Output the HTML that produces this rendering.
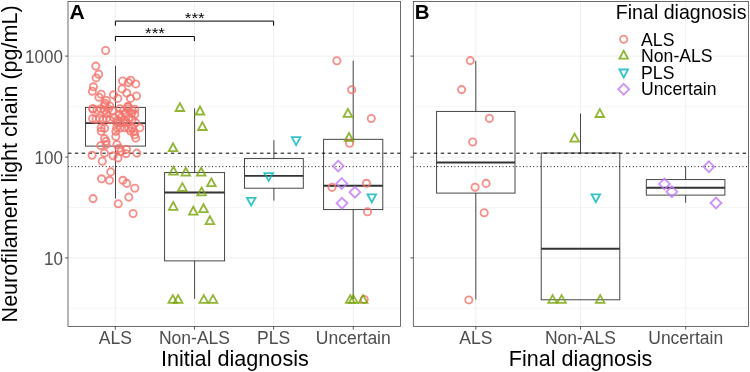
<!DOCTYPE html>
<html><head><meta charset="utf-8"><title>Neurofilament light chain</title><style>html,body{margin:0;padding:0;background:#fff}body{width:750px;height:372px;overflow:hidden}</style></head><body>
<svg width="750" height="372" viewBox="0 0 750 372" style="display:block" font-family="'Liberation Sans', Arial, sans-serif">
<rect x="0" y="0" width="750" height="372" fill="#fff"/>
<rect x="68.0" y="1.45" width="332.55" height="324.90000000000003" fill="#fff"/>
<line x1="68.0" x2="400.55" y1="308.3" y2="308.3" stroke="#EBEBEB" stroke-width="0.45"/>
<line x1="68.0" x2="400.55" y1="207.5" y2="207.5" stroke="#EBEBEB" stroke-width="0.45"/>
<line x1="68.0" x2="400.55" y1="106.7" y2="106.7" stroke="#EBEBEB" stroke-width="0.45"/>
<line x1="68.0" x2="400.55" y1="5.9" y2="5.9" stroke="#EBEBEB" stroke-width="0.45"/>
<line x1="68.0" x2="400.55" y1="56.1" y2="56.1" stroke="#EBEBEB" stroke-width="0.8"/>
<line x1="68.0" x2="400.55" y1="157.1" y2="157.1" stroke="#EBEBEB" stroke-width="0.8"/>
<line x1="68.0" x2="400.55" y1="257.9" y2="257.9" stroke="#EBEBEB" stroke-width="0.8"/>
<line x1="115.3" x2="115.3" y1="1.45" y2="326.35" stroke="#EBEBEB" stroke-width="0.8"/>
<line x1="194.5" x2="194.5" y1="1.45" y2="326.35" stroke="#EBEBEB" stroke-width="0.8"/>
<line x1="273.6" x2="273.6" y1="1.45" y2="326.35" stroke="#EBEBEB" stroke-width="0.8"/>
<line x1="353.3" x2="353.3" y1="1.45" y2="326.35" stroke="#EBEBEB" stroke-width="0.8"/>
<rect x="413.3" y="1.45" width="335.2" height="324.90000000000003" fill="#fff"/>
<line x1="413.3" x2="748.5" y1="308.3" y2="308.3" stroke="#EBEBEB" stroke-width="0.45"/>
<line x1="413.3" x2="748.5" y1="207.5" y2="207.5" stroke="#EBEBEB" stroke-width="0.45"/>
<line x1="413.3" x2="748.5" y1="106.7" y2="106.7" stroke="#EBEBEB" stroke-width="0.45"/>
<line x1="413.3" x2="748.5" y1="5.9" y2="5.9" stroke="#EBEBEB" stroke-width="0.45"/>
<line x1="413.3" x2="748.5" y1="56.1" y2="56.1" stroke="#EBEBEB" stroke-width="0.8"/>
<line x1="413.3" x2="748.5" y1="157.1" y2="157.1" stroke="#EBEBEB" stroke-width="0.8"/>
<line x1="413.3" x2="748.5" y1="257.9" y2="257.9" stroke="#EBEBEB" stroke-width="0.8"/>
<line x1="475.8" x2="475.8" y1="1.45" y2="326.35" stroke="#EBEBEB" stroke-width="0.8"/>
<line x1="580.5" x2="580.5" y1="1.45" y2="326.35" stroke="#EBEBEB" stroke-width="0.8"/>
<line x1="685.7" x2="685.7" y1="1.45" y2="326.35" stroke="#EBEBEB" stroke-width="0.8"/>
<line x1="115.5" x2="115.5" y1="65.8" y2="107.4" stroke="#333" stroke-width="0.9"/>
<line x1="115.5" x2="115.5" y1="146.1" y2="198.6" stroke="#333" stroke-width="0.9"/>
<rect x="85.5" y="107.4" width="60.0" height="38.69999999999999" fill="#fff" fill-opacity="0" stroke="#333" stroke-width="0.9"/>
<line x1="85.5" x2="145.5" y1="123.1" y2="123.1" stroke="#333" stroke-width="1.9"/>
<line x1="194.6" x2="194.6" y1="108.3" y2="172.6" stroke="#333" stroke-width="0.9"/>
<line x1="194.6" x2="194.6" y1="260.9" y2="298.8" stroke="#333" stroke-width="0.9"/>
<rect x="164.6" y="172.6" width="60.0" height="88.29999999999998" fill="#fff" fill-opacity="0" stroke="#333" stroke-width="0.9"/>
<line x1="164.6" x2="224.6" y1="192.5" y2="192.5" stroke="#333" stroke-width="1.9"/>
<line x1="273.9" x2="273.9" y1="140.2" y2="158.6" stroke="#333" stroke-width="0.9"/>
<line x1="273.9" x2="273.9" y1="188.2" y2="200.6" stroke="#333" stroke-width="0.9"/>
<rect x="244.49999999999997" y="158.6" width="58.8" height="29.599999999999994" fill="#fff" fill-opacity="0" stroke="#333" stroke-width="0.9"/>
<line x1="244.49999999999997" x2="303.29999999999995" y1="175.9" y2="175.9" stroke="#333" stroke-width="1.9"/>
<line x1="353.2" x2="353.2" y1="60.7" y2="139.3" stroke="#333" stroke-width="0.9"/>
<line x1="353.2" x2="353.2" y1="209.6" y2="299.0" stroke="#333" stroke-width="0.9"/>
<rect x="323.59999999999997" y="139.3" width="59.2" height="70.29999999999998" fill="#fff" fill-opacity="0" stroke="#333" stroke-width="0.9"/>
<line x1="323.59999999999997" x2="382.8" y1="185.8" y2="185.8" stroke="#333" stroke-width="1.9"/>
<line x1="475.8" x2="475.8" y1="61.0" y2="111.4" stroke="#333" stroke-width="0.9"/>
<line x1="475.8" x2="475.8" y1="193.1" y2="299.6" stroke="#333" stroke-width="0.9"/>
<rect x="436.6" y="111.4" width="78.4" height="81.69999999999999" fill="#fff" fill-opacity="0" stroke="#333" stroke-width="0.9"/>
<line x1="436.6" x2="515.0" y1="162.5" y2="162.5" stroke="#333" stroke-width="1.9"/>
<line x1="580.5" x2="580.5" y1="113.6" y2="153.0" stroke="#333" stroke-width="0.9"/>
<line x1="580.5" x2="580.5" y1="299.8" y2="299.8" stroke="#333" stroke-width="0.9"/>
<rect x="541.2" y="153.0" width="78.6" height="146.8" fill="#fff" fill-opacity="0" stroke="#333" stroke-width="0.9"/>
<line x1="541.2" x2="619.8" y1="248.8" y2="248.8" stroke="#333" stroke-width="1.9"/>
<line x1="685.6" x2="685.6" y1="166.2" y2="179.6" stroke="#333" stroke-width="0.9"/>
<line x1="685.6" x2="685.6" y1="195.1" y2="202.8" stroke="#333" stroke-width="0.9"/>
<rect x="646.3000000000001" y="179.6" width="78.6" height="15.5" fill="#fff" fill-opacity="0" stroke="#333" stroke-width="0.9"/>
<line x1="646.3000000000001" x2="724.9" y1="187.7" y2="187.7" stroke="#333" stroke-width="1.9"/>
<line x1="68.0" x2="400.55" y1="153.2" y2="153.2" stroke="#000" stroke-width="1" stroke-dasharray="3.43 3.43"/>
<line x1="68.0" x2="400.55" y1="166.6" y2="166.6" stroke="#000" stroke-width="1" stroke-dasharray="0.9 2.53"/>
<line x1="413.3" x2="748.5" y1="153.2" y2="153.2" stroke="#000" stroke-width="1" stroke-dasharray="3.43 3.43"/>
<line x1="413.3" x2="748.5" y1="166.6" y2="166.6" stroke="#000" stroke-width="1" stroke-dasharray="0.9 2.53"/>
<circle cx="105.6" cy="50.5" r="3.6" fill="none" stroke="#F4736B" stroke-width="1.85" stroke-opacity="0.8"/>
<circle cx="95.8" cy="66.1" r="3.6" fill="none" stroke="#F4736B" stroke-width="1.85" stroke-opacity="0.8"/>
<circle cx="98.7" cy="74.2" r="3.6" fill="none" stroke="#F4736B" stroke-width="1.85" stroke-opacity="0.8"/>
<circle cx="96.1" cy="77.9" r="3.6" fill="none" stroke="#F4736B" stroke-width="1.85" stroke-opacity="0.8"/>
<circle cx="93.4" cy="86.8" r="3.6" fill="none" stroke="#F4736B" stroke-width="1.85" stroke-opacity="0.8"/>
<circle cx="122.6" cy="81.0" r="3.6" fill="none" stroke="#F4736B" stroke-width="1.85" stroke-opacity="0.8"/>
<circle cx="128.4" cy="82.6" r="3.6" fill="none" stroke="#F4736B" stroke-width="1.85" stroke-opacity="0.8"/>
<circle cx="130.6" cy="80.2" r="3.6" fill="none" stroke="#F4736B" stroke-width="1.85" stroke-opacity="0.8"/>
<circle cx="135.8" cy="83.9" r="3.6" fill="none" stroke="#F4736B" stroke-width="1.85" stroke-opacity="0.8"/>
<circle cx="122.0" cy="88.9" r="3.6" fill="none" stroke="#F4736B" stroke-width="1.85" stroke-opacity="0.8"/>
<circle cx="92.4" cy="91.2" r="3.6" fill="none" stroke="#F4736B" stroke-width="1.85" stroke-opacity="0.8"/>
<circle cx="101.2" cy="94.2" r="3.6" fill="none" stroke="#F4736B" stroke-width="1.85" stroke-opacity="0.8"/>
<circle cx="99.0" cy="97.2" r="3.6" fill="none" stroke="#F4736B" stroke-width="1.85" stroke-opacity="0.8"/>
<circle cx="106.3" cy="100.5" r="3.6" fill="none" stroke="#F4736B" stroke-width="1.85" stroke-opacity="0.8"/>
<circle cx="105.0" cy="103.3" r="3.6" fill="none" stroke="#F4736B" stroke-width="1.85" stroke-opacity="0.8"/>
<circle cx="113.5" cy="94.8" r="3.6" fill="none" stroke="#F4736B" stroke-width="1.85" stroke-opacity="0.8"/>
<circle cx="117.8" cy="98.4" r="3.6" fill="none" stroke="#F4736B" stroke-width="1.85" stroke-opacity="0.8"/>
<circle cx="126.8" cy="93.0" r="3.6" fill="none" stroke="#F4736B" stroke-width="1.85" stroke-opacity="0.8"/>
<circle cx="130.5" cy="98.4" r="3.6" fill="none" stroke="#F4736B" stroke-width="1.85" stroke-opacity="0.8"/>
<circle cx="136.5" cy="96.0" r="3.6" fill="none" stroke="#F4736B" stroke-width="1.85" stroke-opacity="0.8"/>
<circle cx="128.0" cy="106.9" r="3.6" fill="none" stroke="#F4736B" stroke-width="1.85" stroke-opacity="0.8"/>
<circle cx="93.0" cy="108.7" r="3.6" fill="none" stroke="#F4736B" stroke-width="1.85" stroke-opacity="0.8"/>
<circle cx="92.6" cy="109.0" r="3.6" fill="none" stroke="#F4736B" stroke-width="1.85" stroke-opacity="0.8"/>
<circle cx="96.9" cy="110.0" r="3.6" fill="none" stroke="#F4736B" stroke-width="1.85" stroke-opacity="0.8"/>
<circle cx="100.8" cy="108.8" r="3.6" fill="none" stroke="#F4736B" stroke-width="1.85" stroke-opacity="0.8"/>
<circle cx="104.6" cy="110.2" r="3.6" fill="none" stroke="#F4736B" stroke-width="1.85" stroke-opacity="0.8"/>
<circle cx="108.5" cy="109.0" r="3.6" fill="none" stroke="#F4736B" stroke-width="1.85" stroke-opacity="0.8"/>
<circle cx="112.4" cy="110.6" r="3.6" fill="none" stroke="#F4736B" stroke-width="1.85" stroke-opacity="0.8"/>
<circle cx="120.1" cy="108.7" r="3.6" fill="none" stroke="#F4736B" stroke-width="1.85" stroke-opacity="0.8"/>
<circle cx="123.6" cy="110.4" r="3.6" fill="none" stroke="#F4736B" stroke-width="1.85" stroke-opacity="0.8"/>
<circle cx="127.9" cy="109.0" r="3.6" fill="none" stroke="#F4736B" stroke-width="1.85" stroke-opacity="0.8"/>
<circle cx="132.2" cy="110.4" r="3.6" fill="none" stroke="#F4736B" stroke-width="1.85" stroke-opacity="0.8"/>
<circle cx="134.8" cy="109.2" r="3.6" fill="none" stroke="#F4736B" stroke-width="1.85" stroke-opacity="0.8"/>
<circle cx="104.6" cy="105.4" r="3.6" fill="none" stroke="#F4736B" stroke-width="1.85" stroke-opacity="0.8"/>
<circle cx="109.8" cy="105.9" r="3.6" fill="none" stroke="#F4736B" stroke-width="1.85" stroke-opacity="0.8"/>
<circle cx="127.9" cy="106.3" r="3.6" fill="none" stroke="#F4736B" stroke-width="1.85" stroke-opacity="0.8"/>
<circle cx="131.7" cy="113.2" r="3.6" fill="none" stroke="#F4736B" stroke-width="1.85" stroke-opacity="0.8"/>
<circle cx="134.8" cy="114.2" r="3.6" fill="none" stroke="#F4736B" stroke-width="1.85" stroke-opacity="0.8"/>
<circle cx="92.6" cy="118.6" r="3.6" fill="none" stroke="#F4736B" stroke-width="1.85" stroke-opacity="0.8"/>
<circle cx="96.0" cy="119.3" r="3.6" fill="none" stroke="#F4736B" stroke-width="1.85" stroke-opacity="0.8"/>
<circle cx="99.5" cy="118.2" r="3.6" fill="none" stroke="#F4736B" stroke-width="1.85" stroke-opacity="0.8"/>
<circle cx="102.9" cy="119.6" r="3.6" fill="none" stroke="#F4736B" stroke-width="1.85" stroke-opacity="0.8"/>
<circle cx="106.4" cy="118.4" r="3.6" fill="none" stroke="#F4736B" stroke-width="1.85" stroke-opacity="0.8"/>
<circle cx="109.8" cy="119.8" r="3.6" fill="none" stroke="#F4736B" stroke-width="1.85" stroke-opacity="0.8"/>
<circle cx="114.1" cy="118.0" r="3.6" fill="none" stroke="#F4736B" stroke-width="1.85" stroke-opacity="0.8"/>
<circle cx="117.5" cy="120.2" r="3.6" fill="none" stroke="#F4736B" stroke-width="1.85" stroke-opacity="0.8"/>
<circle cx="121.0" cy="117.6" r="3.6" fill="none" stroke="#F4736B" stroke-width="1.85" stroke-opacity="0.8"/>
<circle cx="124.4" cy="119.9" r="3.6" fill="none" stroke="#F4736B" stroke-width="1.85" stroke-opacity="0.8"/>
<circle cx="128.7" cy="117.9" r="3.6" fill="none" stroke="#F4736B" stroke-width="1.85" stroke-opacity="0.8"/>
<circle cx="132.2" cy="119.6" r="3.6" fill="none" stroke="#F4736B" stroke-width="1.85" stroke-opacity="0.8"/>
<circle cx="116.7" cy="122.6" r="3.6" fill="none" stroke="#F4736B" stroke-width="1.85" stroke-opacity="0.8"/>
<circle cx="120.1" cy="122.9" r="3.6" fill="none" stroke="#F4736B" stroke-width="1.85" stroke-opacity="0.8"/>
<circle cx="123.6" cy="122.4" r="3.6" fill="none" stroke="#F4736B" stroke-width="1.85" stroke-opacity="0.8"/>
<circle cx="127.0" cy="122.8" r="3.6" fill="none" stroke="#F4736B" stroke-width="1.85" stroke-opacity="0.8"/>
<circle cx="135.6" cy="122.6" r="3.6" fill="none" stroke="#F4736B" stroke-width="1.85" stroke-opacity="0.8"/>
<circle cx="101.2" cy="127.8" r="3.6" fill="none" stroke="#F4736B" stroke-width="1.85" stroke-opacity="0.8"/>
<circle cx="104.6" cy="128.2" r="3.6" fill="none" stroke="#F4736B" stroke-width="1.85" stroke-opacity="0.8"/>
<circle cx="116.7" cy="127.6" r="3.6" fill="none" stroke="#F4736B" stroke-width="1.85" stroke-opacity="0.8"/>
<circle cx="120.1" cy="128.0" r="3.6" fill="none" stroke="#F4736B" stroke-width="1.85" stroke-opacity="0.8"/>
<circle cx="124.4" cy="127.6" r="3.6" fill="none" stroke="#F4736B" stroke-width="1.85" stroke-opacity="0.8"/>
<circle cx="128.7" cy="128.1" r="3.6" fill="none" stroke="#F4736B" stroke-width="1.85" stroke-opacity="0.8"/>
<circle cx="132.2" cy="127.8" r="3.6" fill="none" stroke="#F4736B" stroke-width="1.85" stroke-opacity="0.8"/>
<circle cx="139.9" cy="127.8" r="3.6" fill="none" stroke="#F4736B" stroke-width="1.85" stroke-opacity="0.8"/>
<circle cx="101.2" cy="131.2" r="3.6" fill="none" stroke="#F4736B" stroke-width="1.85" stroke-opacity="0.8"/>
<circle cx="115.8" cy="131.4" r="3.6" fill="none" stroke="#F4736B" stroke-width="1.85" stroke-opacity="0.8"/>
<circle cx="130.5" cy="131.0" r="3.6" fill="none" stroke="#F4736B" stroke-width="1.85" stroke-opacity="0.8"/>
<circle cx="133.9" cy="131.6" r="3.6" fill="none" stroke="#F4736B" stroke-width="1.85" stroke-opacity="0.8"/>
<circle cx="119.5" cy="114.3" r="3.6" fill="none" stroke="#F4736B" stroke-width="1.85" stroke-opacity="0.8"/>
<circle cx="125.3" cy="113.8" r="3.6" fill="none" stroke="#F4736B" stroke-width="1.85" stroke-opacity="0.8"/>
<circle cx="106.6" cy="113.6" r="3.6" fill="none" stroke="#F4736B" stroke-width="1.85" stroke-opacity="0.8"/>
<circle cx="115.8" cy="136.5" r="3.6" fill="none" stroke="#F4736B" stroke-width="1.85" stroke-opacity="0.8"/>
<circle cx="104.5" cy="138.6" r="3.6" fill="none" stroke="#F4736B" stroke-width="1.85" stroke-opacity="0.8"/>
<circle cx="106.1" cy="141.3" r="3.6" fill="none" stroke="#F4736B" stroke-width="1.85" stroke-opacity="0.8"/>
<circle cx="135.7" cy="138.1" r="3.6" fill="none" stroke="#F4736B" stroke-width="1.85" stroke-opacity="0.8"/>
<circle cx="134.6" cy="134.8" r="3.6" fill="none" stroke="#F4736B" stroke-width="1.85" stroke-opacity="0.8"/>
<circle cx="100.7" cy="145.6" r="3.6" fill="none" stroke="#F4736B" stroke-width="1.85" stroke-opacity="0.8"/>
<circle cx="106.1" cy="144.5" r="3.6" fill="none" stroke="#F4736B" stroke-width="1.85" stroke-opacity="0.8"/>
<circle cx="116.9" cy="144.5" r="3.6" fill="none" stroke="#F4736B" stroke-width="1.85" stroke-opacity="0.8"/>
<circle cx="119.0" cy="148.3" r="3.6" fill="none" stroke="#F4736B" stroke-width="1.85" stroke-opacity="0.8"/>
<circle cx="126.5" cy="149.4" r="3.6" fill="none" stroke="#F4736B" stroke-width="1.85" stroke-opacity="0.8"/>
<circle cx="121.2" cy="151.5" r="3.6" fill="none" stroke="#F4736B" stroke-width="1.85" stroke-opacity="0.8"/>
<circle cx="126.0" cy="153.7" r="3.6" fill="none" stroke="#F4736B" stroke-width="1.85" stroke-opacity="0.8"/>
<circle cx="136.8" cy="153.1" r="3.6" fill="none" stroke="#F4736B" stroke-width="1.85" stroke-opacity="0.8"/>
<circle cx="104.5" cy="153.1" r="3.6" fill="none" stroke="#F4736B" stroke-width="1.85" stroke-opacity="0.8"/>
<circle cx="92.1" cy="155.3" r="3.6" fill="none" stroke="#F4736B" stroke-width="1.85" stroke-opacity="0.8"/>
<circle cx="113.1" cy="155.8" r="3.6" fill="none" stroke="#F4736B" stroke-width="1.85" stroke-opacity="0.8"/>
<circle cx="117.9" cy="158.0" r="3.6" fill="none" stroke="#F4736B" stroke-width="1.85" stroke-opacity="0.8"/>
<circle cx="102.3" cy="161.2" r="3.6" fill="none" stroke="#F4736B" stroke-width="1.85" stroke-opacity="0.8"/>
<circle cx="110.7" cy="171.9" r="3.6" fill="none" stroke="#F4736B" stroke-width="1.85" stroke-opacity="0.8"/>
<circle cx="101.6" cy="178.8" r="3.6" fill="none" stroke="#F4736B" stroke-width="1.85" stroke-opacity="0.8"/>
<circle cx="109.5" cy="180.3" r="3.6" fill="none" stroke="#F4736B" stroke-width="1.85" stroke-opacity="0.8"/>
<circle cx="122.9" cy="180.3" r="3.6" fill="none" stroke="#F4736B" stroke-width="1.85" stroke-opacity="0.8"/>
<circle cx="126.7" cy="183.4" r="3.6" fill="none" stroke="#F4736B" stroke-width="1.85" stroke-opacity="0.8"/>
<circle cx="134.8" cy="188.2" r="3.6" fill="none" stroke="#F4736B" stroke-width="1.85" stroke-opacity="0.8"/>
<circle cx="128.8" cy="197.1" r="3.6" fill="none" stroke="#F4736B" stroke-width="1.85" stroke-opacity="0.8"/>
<circle cx="93.0" cy="198.6" r="3.6" fill="none" stroke="#F4736B" stroke-width="1.85" stroke-opacity="0.8"/>
<circle cx="118.2" cy="203.7" r="3.6" fill="none" stroke="#F4736B" stroke-width="1.85" stroke-opacity="0.8"/>
<circle cx="133.1" cy="213.5" r="3.6" fill="none" stroke="#F4736B" stroke-width="1.85" stroke-opacity="0.8"/>
<path d="M179.9 103.1L184.2 111.0L175.6 111.0Z" fill="none" stroke="#74A400" stroke-width="1.8" stroke-opacity="0.8" stroke-linejoin="miter"/>
<path d="M200.0 106.5L204.3 114.5L195.7 114.5Z" fill="none" stroke="#74A400" stroke-width="1.8" stroke-opacity="0.8" stroke-linejoin="miter"/>
<path d="M202.4 122.1L206.7 130.0L198.1 130.0Z" fill="none" stroke="#74A400" stroke-width="1.8" stroke-opacity="0.8" stroke-linejoin="miter"/>
<path d="M173.0 143.3L177.3 151.2L168.7 151.2Z" fill="none" stroke="#74A400" stroke-width="1.8" stroke-opacity="0.8" stroke-linejoin="miter"/>
<path d="M173.5 166.7L177.8 174.6L169.2 174.6Z" fill="none" stroke="#74A400" stroke-width="1.8" stroke-opacity="0.8" stroke-linejoin="miter"/>
<path d="M185.8 167.7L190.1 175.6L181.5 175.6Z" fill="none" stroke="#74A400" stroke-width="1.8" stroke-opacity="0.8" stroke-linejoin="miter"/>
<path d="M201.2 167.7L205.5 175.6L196.9 175.6Z" fill="none" stroke="#74A400" stroke-width="1.8" stroke-opacity="0.8" stroke-linejoin="miter"/>
<path d="M211.4 178.4L215.7 186.2L207.1 186.2Z" fill="none" stroke="#74A400" stroke-width="1.8" stroke-opacity="0.8" stroke-linejoin="miter"/>
<path d="M182.4 183.1L186.7 190.9L178.1 190.9Z" fill="none" stroke="#74A400" stroke-width="1.8" stroke-opacity="0.8" stroke-linejoin="miter"/>
<path d="M201.6 187.5L205.9 195.3L197.3 195.3Z" fill="none" stroke="#74A400" stroke-width="1.8" stroke-opacity="0.8" stroke-linejoin="miter"/>
<path d="M173.2 202.0L177.5 209.8L168.9 209.8Z" fill="none" stroke="#74A400" stroke-width="1.8" stroke-opacity="0.8" stroke-linejoin="miter"/>
<path d="M193.3 206.7L197.6 214.6L189.0 214.6Z" fill="none" stroke="#74A400" stroke-width="1.8" stroke-opacity="0.8" stroke-linejoin="miter"/>
<path d="M203.5 204.2L207.8 212.1L199.2 212.1Z" fill="none" stroke="#74A400" stroke-width="1.8" stroke-opacity="0.8" stroke-linejoin="miter"/>
<path d="M209.9 216.2L214.2 224.1L205.6 224.1Z" fill="none" stroke="#74A400" stroke-width="1.8" stroke-opacity="0.8" stroke-linejoin="miter"/>
<path d="M172.8 295.1L177.1 302.9L168.5 302.9Z" fill="none" stroke="#74A400" stroke-width="1.8" stroke-opacity="0.8" stroke-linejoin="miter"/>
<path d="M178.1 295.1L182.4 302.9L173.8 302.9Z" fill="none" stroke="#74A400" stroke-width="1.8" stroke-opacity="0.8" stroke-linejoin="miter"/>
<path d="M203.8 295.1L208.1 302.9L199.5 302.9Z" fill="none" stroke="#74A400" stroke-width="1.8" stroke-opacity="0.8" stroke-linejoin="miter"/>
<path d="M213.0 295.1L217.3 302.9L208.7 302.9Z" fill="none" stroke="#74A400" stroke-width="1.8" stroke-opacity="0.8" stroke-linejoin="miter"/>
<path d="M296.1 145.1L300.4 137.2L291.8 137.2Z" fill="none" stroke="#00B4BA" stroke-width="1.8" stroke-opacity="0.8" stroke-linejoin="miter"/>
<path d="M268.7 180.9L273.0 173.1L264.4 173.1Z" fill="none" stroke="#00B4BA" stroke-width="1.8" stroke-opacity="0.8" stroke-linejoin="miter"/>
<path d="M251.2 205.6L255.5 197.8L246.9 197.8Z" fill="none" stroke="#00B4BA" stroke-width="1.8" stroke-opacity="0.8" stroke-linejoin="miter"/>
<circle cx="336.9" cy="60.7" r="3.6" fill="none" stroke="#F4736B" stroke-width="1.85" stroke-opacity="0.8"/>
<circle cx="351.7" cy="89.7" r="3.6" fill="none" stroke="#F4736B" stroke-width="1.85" stroke-opacity="0.8"/>
<circle cx="371.3" cy="118.5" r="3.6" fill="none" stroke="#F4736B" stroke-width="1.85" stroke-opacity="0.8"/>
<circle cx="349.5" cy="143.3" r="3.6" fill="none" stroke="#F4736B" stroke-width="1.85" stroke-opacity="0.8"/>
<circle cx="332.0" cy="187.4" r="3.6" fill="none" stroke="#F4736B" stroke-width="1.85" stroke-opacity="0.8"/>
<circle cx="366.5" cy="183.3" r="3.6" fill="none" stroke="#F4736B" stroke-width="1.85" stroke-opacity="0.8"/>
<circle cx="367.5" cy="211.8" r="3.6" fill="none" stroke="#F4736B" stroke-width="1.85" stroke-opacity="0.8"/>
<circle cx="364.2" cy="299.4" r="3.6" fill="none" stroke="#F4736B" stroke-width="1.85" stroke-opacity="0.8"/>
<path d="M347.9 108.9L352.2 116.8L343.6 116.8Z" fill="none" stroke="#74A400" stroke-width="1.8" stroke-opacity="0.8" stroke-linejoin="miter"/>
<path d="M349.0 133.0L353.3 140.8L344.7 140.8Z" fill="none" stroke="#74A400" stroke-width="1.8" stroke-opacity="0.8" stroke-linejoin="miter"/>
<path d="M350.3 295.1L354.6 302.9L346.0 302.9Z" fill="none" stroke="#74A400" stroke-width="1.8" stroke-opacity="0.8" stroke-linejoin="miter"/>
<path d="M353.3 295.1L357.6 302.9L349.0 302.9Z" fill="none" stroke="#74A400" stroke-width="1.8" stroke-opacity="0.8" stroke-linejoin="miter"/>
<path d="M363.1 295.1L367.4 302.9L358.8 302.9Z" fill="none" stroke="#74A400" stroke-width="1.8" stroke-opacity="0.8" stroke-linejoin="miter"/>
<path d="M338.2 160.7L343.6 166.1L338.2 171.5L332.8 166.1Z" fill="none" stroke="#C078F8" stroke-width="1.85" stroke-opacity="0.8" stroke-linejoin="miter"/>
<path d="M341.7 178.2L347.1 183.6L341.7 189.0L336.3 183.6Z" fill="none" stroke="#C078F8" stroke-width="1.85" stroke-opacity="0.8" stroke-linejoin="miter"/>
<path d="M354.9 186.8L360.3 192.2L354.9 197.6L349.5 192.2Z" fill="none" stroke="#C078F8" stroke-width="1.85" stroke-opacity="0.8" stroke-linejoin="miter"/>
<path d="M342.0 197.8L347.4 203.2L342.0 208.6L336.6 203.2Z" fill="none" stroke="#C078F8" stroke-width="1.85" stroke-opacity="0.8" stroke-linejoin="miter"/>
<path d="M371.8 202.3L376.1 194.4L367.5 194.4Z" fill="none" stroke="#00B4BA" stroke-width="1.8" stroke-opacity="0.8" stroke-linejoin="miter"/>
<circle cx="470.3" cy="60.6" r="3.6" fill="none" stroke="#F4736B" stroke-width="1.85" stroke-opacity="0.8"/>
<circle cx="461.6" cy="89.6" r="3.6" fill="none" stroke="#F4736B" stroke-width="1.85" stroke-opacity="0.8"/>
<circle cx="489.4" cy="118.4" r="3.6" fill="none" stroke="#F4736B" stroke-width="1.85" stroke-opacity="0.8"/>
<circle cx="472.7" cy="142.0" r="3.6" fill="none" stroke="#F4736B" stroke-width="1.85" stroke-opacity="0.8"/>
<circle cx="486.1" cy="183.4" r="3.6" fill="none" stroke="#F4736B" stroke-width="1.85" stroke-opacity="0.8"/>
<circle cx="475.1" cy="187.2" r="3.6" fill="none" stroke="#F4736B" stroke-width="1.85" stroke-opacity="0.8"/>
<circle cx="484.2" cy="212.7" r="3.6" fill="none" stroke="#F4736B" stroke-width="1.85" stroke-opacity="0.8"/>
<circle cx="468.8" cy="299.9" r="3.6" fill="none" stroke="#F4736B" stroke-width="1.85" stroke-opacity="0.8"/>
<path d="M599.8 109.1L604.1 117.0L595.5 117.0Z" fill="none" stroke="#74A400" stroke-width="1.8" stroke-opacity="0.8" stroke-linejoin="miter"/>
<path d="M574.6 133.7L578.9 141.6L570.3 141.6Z" fill="none" stroke="#74A400" stroke-width="1.8" stroke-opacity="0.8" stroke-linejoin="miter"/>
<path d="M552.6 295.1L556.9 302.9L548.3 302.9Z" fill="none" stroke="#74A400" stroke-width="1.8" stroke-opacity="0.8" stroke-linejoin="miter"/>
<path d="M561.6 295.1L565.9 302.9L557.3 302.9Z" fill="none" stroke="#74A400" stroke-width="1.8" stroke-opacity="0.8" stroke-linejoin="miter"/>
<path d="M600.2 295.1L604.5 302.9L595.9 302.9Z" fill="none" stroke="#74A400" stroke-width="1.8" stroke-opacity="0.8" stroke-linejoin="miter"/>
<path d="M595.8 202.2L600.1 194.3L591.5 194.3Z" fill="none" stroke="#00B4BA" stroke-width="1.8" stroke-opacity="0.8" stroke-linejoin="miter"/>
<path d="M708.9 161.3L714.3 166.7L708.9 172.1L703.5 166.7Z" fill="none" stroke="#C078F8" stroke-width="1.85" stroke-opacity="0.8" stroke-linejoin="miter"/>
<path d="M664.4 178.5L669.8 183.9L664.4 189.3L659.0 183.9Z" fill="none" stroke="#C078F8" stroke-width="1.85" stroke-opacity="0.8" stroke-linejoin="miter"/>
<path d="M671.9 186.4L677.3 191.8L671.9 197.2L666.5 191.8Z" fill="none" stroke="#C078F8" stroke-width="1.85" stroke-opacity="0.8" stroke-linejoin="miter"/>
<path d="M716.0 197.6L721.4 203.0L716.0 208.4L710.6 203.0Z" fill="none" stroke="#C078F8" stroke-width="1.85" stroke-opacity="0.8" stroke-linejoin="miter"/>
<rect x="68.0" y="1.45" width="332.55" height="324.90000000000003" fill="none" stroke="#333" stroke-width="0.72"/>
<line x1="115.3" x2="115.3" y1="326.35" y2="329.65000000000003" stroke="#333" stroke-width="0.8"/>
<line x1="194.5" x2="194.5" y1="326.35" y2="329.65000000000003" stroke="#333" stroke-width="0.8"/>
<line x1="273.6" x2="273.6" y1="326.35" y2="329.65000000000003" stroke="#333" stroke-width="0.8"/>
<line x1="353.3" x2="353.3" y1="326.35" y2="329.65000000000003" stroke="#333" stroke-width="0.8"/>
<line x1="65.1" x2="68.0" y1="56.1" y2="56.1" stroke="#333" stroke-width="0.8"/>
<line x1="65.1" x2="68.0" y1="157.1" y2="157.1" stroke="#333" stroke-width="0.8"/>
<line x1="65.1" x2="68.0" y1="257.9" y2="257.9" stroke="#333" stroke-width="0.8"/>
<rect x="413.3" y="1.45" width="335.2" height="324.90000000000003" fill="none" stroke="#333" stroke-width="0.72"/>
<line x1="475.8" x2="475.8" y1="326.35" y2="329.65000000000003" stroke="#333" stroke-width="0.8"/>
<line x1="580.5" x2="580.5" y1="326.35" y2="329.65000000000003" stroke="#333" stroke-width="0.8"/>
<line x1="685.7" x2="685.7" y1="326.35" y2="329.65000000000003" stroke="#333" stroke-width="0.8"/>
<line x1="410.40000000000003" x2="413.3" y1="56.1" y2="56.1" stroke="#333" stroke-width="0.8"/>
<line x1="410.40000000000003" x2="413.3" y1="157.1" y2="157.1" stroke="#333" stroke-width="0.8"/>
<line x1="410.40000000000003" x2="413.3" y1="257.9" y2="257.9" stroke="#333" stroke-width="0.8"/>
<path d="M115.4 25.7V21.1H273.6V25.7" fill="none" stroke="#000" stroke-width="1.0"/>
<path d="M115.4 41.1V36.5H194.4V41.1" fill="none" stroke="#000" stroke-width="1.0"/>
<text x="194.7" y="22.5" font-size="14.3" text-anchor="middle" textLength="19.85" lengthAdjust="spacingAndGlyphs" fill="#000">***</text>
<text x="155.0" y="37.6" font-size="14.3" text-anchor="middle" textLength="19.85" lengthAdjust="spacingAndGlyphs" fill="#000">***</text>
<text x="69.5" y="19.3" font-size="20.4" font-weight="bold" textLength="15.26" lengthAdjust="spacingAndGlyphs" fill="#000">A</text>
<text x="414.7" y="19.3" font-size="20.0" font-weight="bold" textLength="14.80" lengthAdjust="spacingAndGlyphs" fill="#000">B</text>
<text x="62.9" y="62.7" font-size="18.5" text-anchor="end" textLength="37.78" lengthAdjust="spacingAndGlyphs" fill="#4D4D4D">1000</text>
<text x="62.9" y="163.7" font-size="18.5" text-anchor="end" textLength="28.34" lengthAdjust="spacingAndGlyphs" fill="#4D4D4D">100</text>
<text x="62.9" y="264.5" font-size="18.5" text-anchor="end" textLength="18.89" lengthAdjust="spacingAndGlyphs" fill="#4D4D4D">10</text>
<text x="115.3" y="343.5" font-size="17.5" text-anchor="middle" textLength="33.08" lengthAdjust="spacingAndGlyphs" fill="#4D4D4D">ALS</text>
<text x="194.5" y="343.5" font-size="17.5" text-anchor="middle" textLength="71.01" lengthAdjust="spacingAndGlyphs" fill="#4D4D4D">Non-ALS</text>
<text x="273.6" y="343.5" font-size="17.5" text-anchor="middle" textLength="33.08" lengthAdjust="spacingAndGlyphs" fill="#4D4D4D">PLS</text>
<text x="353.3" y="343.5" font-size="17.5" text-anchor="middle" textLength="74.90" lengthAdjust="spacingAndGlyphs" fill="#4D4D4D">Uncertain</text>
<text x="475.8" y="343.5" font-size="17.5" text-anchor="middle" textLength="33.08" lengthAdjust="spacingAndGlyphs" fill="#4D4D4D">ALS</text>
<text x="580.5" y="343.5" font-size="17.5" text-anchor="middle" textLength="71.01" lengthAdjust="spacingAndGlyphs" fill="#4D4D4D">Non-ALS</text>
<text x="685.7" y="343.5" font-size="17.5" text-anchor="middle" textLength="74.90" lengthAdjust="spacingAndGlyphs" fill="#4D4D4D">Uncertain</text>
<text x="234.9" y="365.7" font-size="21.5" text-anchor="middle" textLength="147.89" lengthAdjust="spacingAndGlyphs" fill="#000">Initial diagnosis</text>
<text x="580.6" y="365.7" font-size="21.5" text-anchor="middle" textLength="143.56" lengthAdjust="spacingAndGlyphs" fill="#000">Final diagnosis</text>
<text transform="translate(16.8,163.9) rotate(-90)" font-size="21.5" text-anchor="middle" textLength="317.0" lengthAdjust="spacingAndGlyphs" fill="#000">Neurofilament light chain (pg/mL)</text>
<text x="615.8" y="19.2" font-size="19.8" textLength="130.63" lengthAdjust="spacingAndGlyphs" fill="#000">Final diagnosis</text>
<text x="641.1" y="45.5" font-size="17.8" textLength="33.28" lengthAdjust="spacingAndGlyphs" fill="#000">ALS</text>
<text x="641.1" y="62.1" font-size="17.8" textLength="71.43" lengthAdjust="spacingAndGlyphs" fill="#000">Non-ALS</text>
<text x="641.1" y="78.8" font-size="17.8" textLength="33.28" lengthAdjust="spacingAndGlyphs" fill="#000">PLS</text>
<text x="641.1" y="95.3" font-size="17.8" textLength="75.34" lengthAdjust="spacingAndGlyphs" fill="#000">Uncertain</text>
<circle cx="623.7" cy="39.2" r="3.6" fill="none" stroke="#F4736B" stroke-width="1.85" stroke-opacity="0.8"/>
<path d="M623.7 50.7L628.0 58.6L619.4 58.6Z" fill="none" stroke="#74A400" stroke-width="1.8" stroke-opacity="0.8" stroke-linejoin="miter"/>
<path d="M623.7 77.5L628.0 69.5L619.4 69.5Z" fill="none" stroke="#00B4BA" stroke-width="1.8" stroke-opacity="0.8" stroke-linejoin="miter"/>
<path d="M623.7 83.9L629.1 89.3L623.7 94.7L618.3 89.3Z" fill="none" stroke="#C078F8" stroke-width="1.85" stroke-opacity="0.8" stroke-linejoin="miter"/>
</svg>
</body></html>
